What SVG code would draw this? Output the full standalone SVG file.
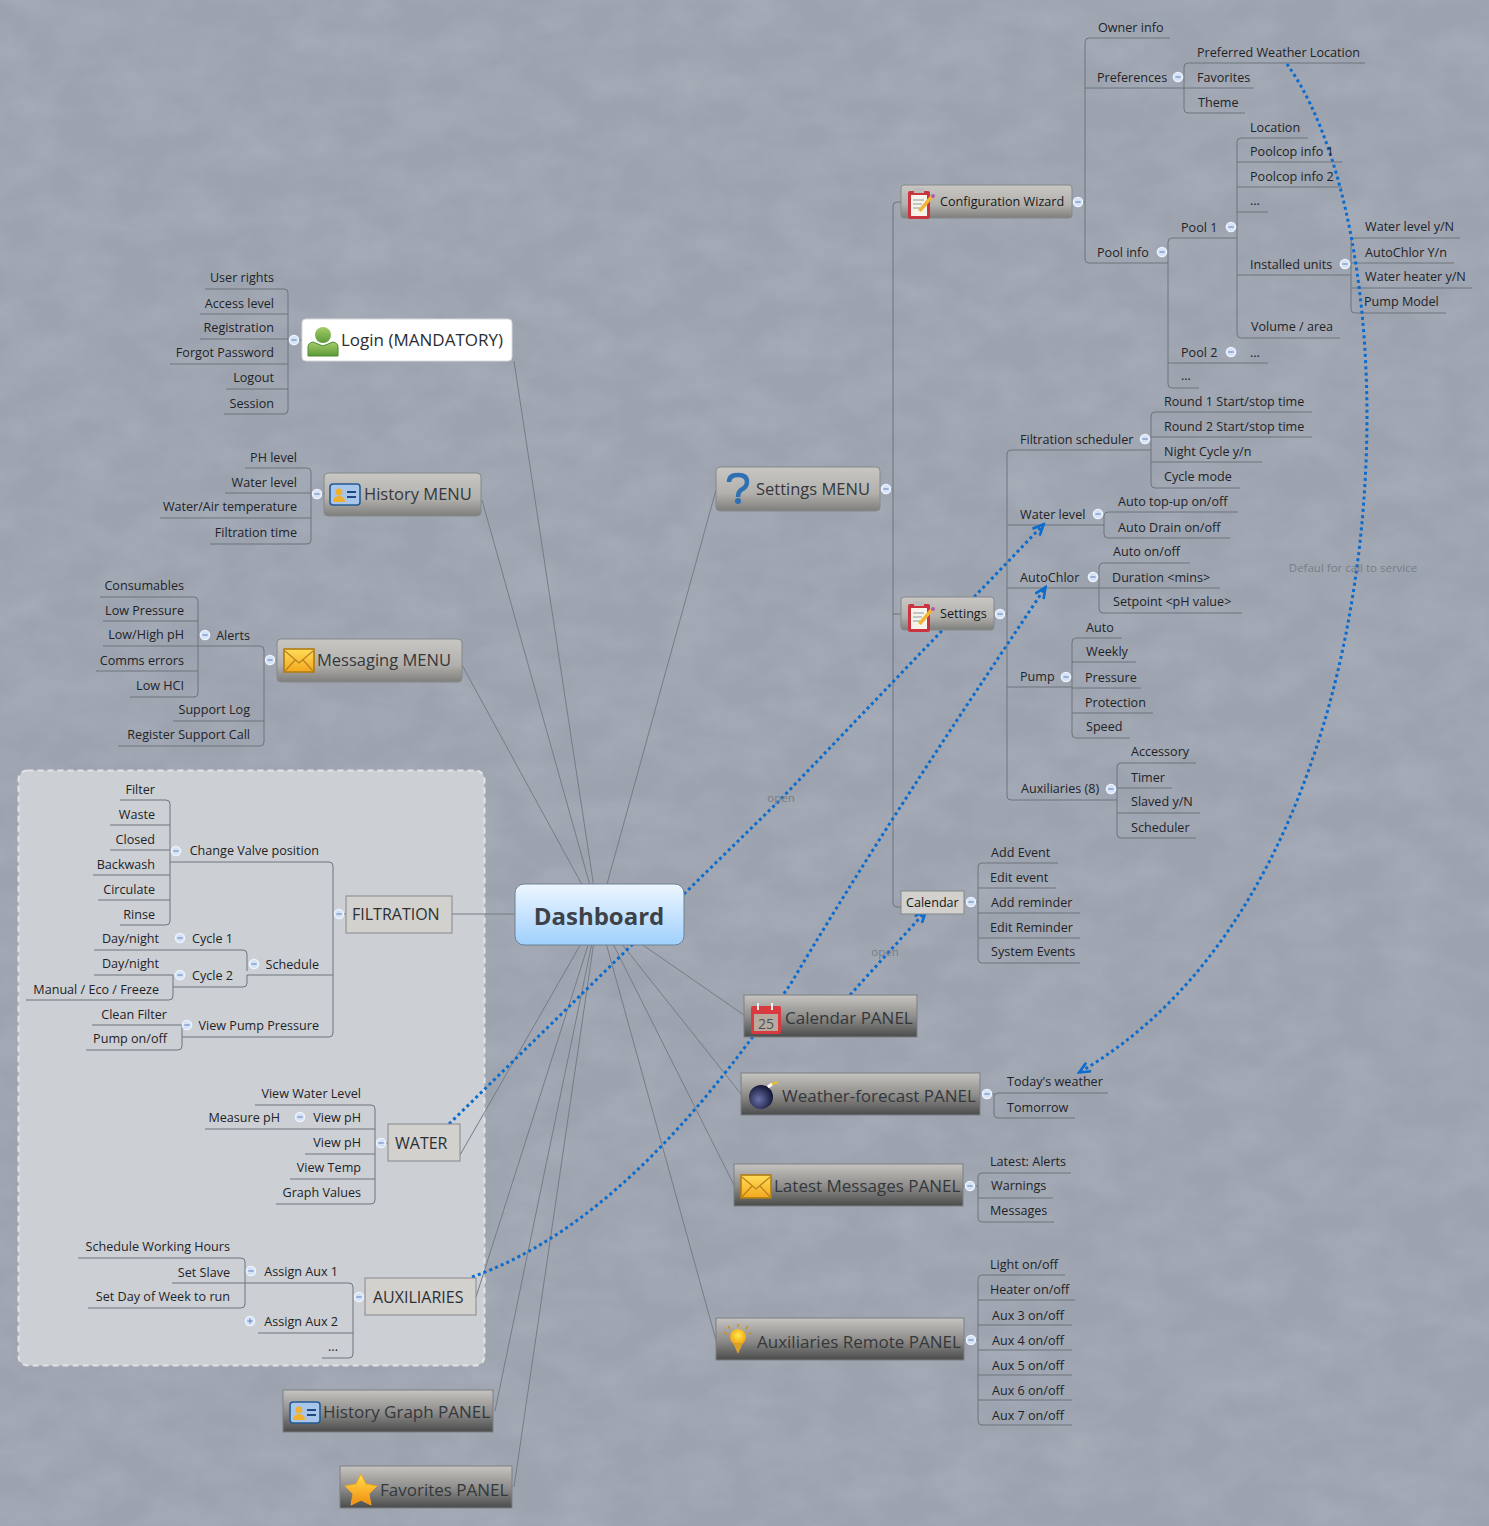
<svg xmlns="http://www.w3.org/2000/svg" xmlns:xlink="http://www.w3.org/1999/xlink" width="1489" height="1526" viewBox="0 0 1489 1526">
<style>
text{font-family:"Open Sans","Noto Sans","Liberation Sans",sans-serif;font-size:12.6px;fill:#1f2327;dominant-baseline:central}
.e{text-anchor:end}
.p{font-size:17px;fill:#34383c}
.m{font-size:16.5px;fill:#34383c}
.s{font-size:12.6px;fill:#15181b}
.b{font-size:16px;fill:#2c3034}
.rel{font-size:11.5px;fill:#777d86;text-anchor:middle}
.br{fill:none;stroke:#6e747c;stroke-width:1}
.ray{fill:none;stroke:#777c84;stroke-width:1}
.dot{fill:none;stroke:#0a6ccf;stroke-width:3;stroke-dasharray:3 3.2}
.dp{fill:#d6e2f6;stroke:#eef4ff;stroke-width:1.4}
.dm{stroke:#6787bd;stroke-width:1.1;fill:none}
.panel{fill:url(#gp);stroke:#7c7f84;stroke-width:1}
.menu{fill:url(#gm);stroke:#85888c;stroke-width:1}
.flat{fill:#d2d1ce;stroke:#85888c;stroke-width:1}
</style>
<defs>
<linearGradient id="gp" x1="0" y1="0" x2="0" y2="1"><stop offset="0" stop-color="#c6c4c0"/><stop offset=".55" stop-color="#8b8a88"/><stop offset="1" stop-color="#4a4b4b"/></linearGradient>
<linearGradient id="gm" x1="0" y1="0" x2="0" y2="1"><stop offset="0" stop-color="#c9c7c3"/><stop offset=".6" stop-color="#b2b0ac"/><stop offset="1" stop-color="#7e7e7c"/></linearGradient>
<linearGradient id="gd" x1="0" y1="0" x2="0" y2="1"><stop offset="0" stop-color="#eef6fe"/><stop offset="1" stop-color="#9fd0fd"/></linearGradient>
<linearGradient id="genv" x1="0" y1="0" x2="0" y2="1"><stop offset="0" stop-color="#ffdc5a"/><stop offset="1" stop-color="#f4a81c"/></linearGradient>
<linearGradient id="gstar" x1="0" y1="0" x2="0" y2="1"><stop offset="0" stop-color="#ffe04a"/><stop offset="1" stop-color="#f28c10"/></linearGradient>
<radialGradient id="gbomb" cx=".4" cy=".6" r=".6"><stop offset="0" stop-color="#6a73a8"/><stop offset="1" stop-color="#15183a"/></radialGradient>
<radialGradient id="gbulb" cx=".5" cy=".4" r=".6"><stop offset="0" stop-color="#ffe94e"/><stop offset="1" stop-color="#f0a010"/></radialGradient>
<linearGradient id="gper" x1="0" y1="0" x2="0" y2="1"><stop offset="0" stop-color="#a4cd6a"/><stop offset="1" stop-color="#5d9a38"/></linearGradient>
<filter id="tex" x="0" y="0" width="100%" height="100%"><feTurbulence type="fractalNoise" baseFrequency=".018 .03" numOctaves="4" seed="7"/><feColorMatrix values="0 0 0 0 1 0 0 0 0 1 0 0 0 0 1 0 0 0 .5 -.16"/></filter>
<marker id="arr" markerUnits="userSpaceOnUse" markerWidth="14" markerHeight="12" refX="11" refY="6" orient="auto"><path d="M1 1L12 6L1 11" fill="none" stroke="#0a6ccf" stroke-width="2.6"/></marker>
<g id="minus"><circle class="dp" r="4.6"/><path class="dm" d="M-2.6 0H2.6"/></g>
<g id="plus"><circle class="dp" r="4.6"/><path class="dm" d="M-2.6 0H2.6M0-2.6V2.6"/></g>
<g id="clip"><rect x="0" y="4" width="22" height="28" rx="2" fill="#c9343f"/><rect x="3" y="8" width="16" height="21" fill="#f6f3ea"/><rect x="6" y="1" width="10" height="5" fill="#bbb"/><path d="M5 13h11M5 17h9M5 21h7" stroke="#8b9aa0" stroke-width="1"/><path d="M10 23L22 9l3 2L13 25z" fill="#f2b632"/><circle cx="25" cy="9" r="2" fill="#b05ab0"/></g>
<g id="card"><rect x="0" y="0" width="30" height="21" rx="3" fill="#a7c6ea" stroke="#255a92" stroke-width="1.6"/><circle cx="9" cy="8" r="3.4" fill="#f0b030"/><path d="M3 18q0-6 6-6t6 6z" fill="#f0b030"/><path d="M17 8h9M17 13h9" stroke="#1d4a80" stroke-width="2"/></g>
<g id="env"><rect x="0" y="0" width="30" height="23" fill="url(#genv)" stroke="#b07c14" stroke-width="1.6"/><path d="M1 2L15 14L29 2M1 22L11 11M29 22L19 11" fill="none" stroke="#b8801c" stroke-width="1.2"/></g>
</defs>

<rect id="background" width="1489" height="1526" fill="#9ca3af"/>
<rect width="1489" height="1526" filter="url(#tex)" opacity=".35"/>

<g id="boundary"><rect x="18.500" y="770.500" width="466" height="595" rx="9" fill="#ccd0d4" stroke="#e2e3e3" stroke-width="2" stroke-dasharray="6 4"/></g>

<g id="connectors">
<!-- central rays -->
<path class="ray" d="M598 914L514 361M598 914L482 500M598 914L462 665M452 914H515M598 914L607 884L716 490M598 914L744 1015M598 914L741 1094M598 914L734 1185M598 914L716 1340M598 914L460 1155M598 914L476 1297M598 914L495 1411M598 914L514 1487"/>
<!-- Configuration + settings spine -->
<path class="br" d="M880 489H893M901 202H897Q893 202 893 206V903Q893 907 897 907H901M893 614H901"/>
<path class="br" d="M1072 202H1085M1170 38H1089Q1085 38 1085 42V259Q1085 263 1089 263H1168M1085 88H1184"/>
<path class="br" d="M1365 63H1188Q1184 63 1184 67V109Q1184 113 1188 113H1245M1184 88H1254"/>
<path class="br" d="M1237 238H1172Q1168 238 1168 242V384Q1168 388 1172 388H1199M1168 363H1237"/>
<path class="br" d="M1308 138H1241Q1237 138 1237 142V334Q1237 338 1241 338H1340M1237 162H1342M1237 187H1342M1237 212H1268M1237 275H1351M1237 363H1268"/>
<path class="br" d="M1460 238H1355Q1351 238 1351 242V309Q1351 313 1355 313H1446M1351 263H1454M1351 288H1472"/>
<!-- settings -->
<path class="br" d="M994 614H1007M1151 450H1011Q1007 450 1007 454V796Q1007 800 1011 800H1117M1007 525H1104M1007 588H1099M1007 687H1072"/>
<path class="br" d="M1312 412H1155Q1151 412 1151 416V484Q1151 488 1155 488H1240M1151 437H1312M1151 462H1262"/>
<path class="br" d="M1238 512H1108Q1104 512 1104 516V534Q1104 538 1108 538H1230"/>
<path class="br" d="M1190 563H1103Q1099 563 1099 567V609Q1099 613 1103 613H1242M1099 588H1220"/>
<path class="br" d="M1122 638H1076Q1072 638 1072 642V734Q1072 738 1076 738H1130M1072 662H1136M1072 688H1141M1072 713H1153"/>
<path class="br" d="M1196 763H1121Q1117 763 1117 767V834Q1117 838 1121 838H1196M1117 788H1172M1117 813H1200"/>
<!-- calendar -->
<path class="br" d="M964 902H978M1058 863H982Q978 863 978 867V959Q978 963 982 963H1080M978 888H1056M978 913H1080M978 938H1080"/>
<!-- panels -->
<path class="br" d="M980 1094H994M1108 1093H998Q994 1093 994 1097V1114Q994 1118 998 1118H1075"/>
<path class="br" d="M963 1186H978M1071 1173H982Q978 1173 978 1177V1218Q978 1222 982 1222H1054M978 1198H1053"/>
<path class="br" d="M964 1340H978M1065 1275H982Q978 1275 978 1279V1421Q978 1425 982 1425H1072M978 1300H1075M978 1325H1072M978 1350H1072M978 1375H1072M978 1400H1072"/>
<!-- login / history / messaging -->
<path class="br" d="M302 340H288M205 289H284Q288 289 288 293V410Q288 414 284 414H224M200 314H288M200 339H288M170 364H288M226 389H288"/>
<path class="br" d="M324 494H311M245 468H307Q311 468 311 472V540Q311 544 307 544H210M225 493H311M160 518H311"/>
<path class="br" d="M277 660H264M198 646H260Q264 646 264 650V742Q264 746 260 746H118M173 721H264"/>
<path class="br" d="M100 597H194Q198 597 198 601V693Q198 697 194 697H130M103 621H198M103 646H198M96 671H198"/>
<!-- filtration -->
<path class="br" d="M346 914H333M170 862H329Q333 862 333 866V1033Q333 1037 329 1037H182M247 975H333"/>
<path class="br" d="M120 800H166Q170 800 170 804V921Q170 925 166 925H120M110 825H170M110 850H170M93 875H170M98 900H170"/>
<path class="br" d="M94 950H243Q247 950 247 954V971M173 987H243Q247 987 247 983V975"/>
<path class="br" d="M94 975H173M26 1000H169Q173 1000 173 996V975"/>
<path class="br" d="M92 1025H182V1046Q182 1050 178 1050H86"/>
<!-- water -->
<path class="br" d="M388 1143H375M255 1105H371Q375 1105 375 1109V1200Q375 1204 371 1204H276M205 1129H375M305 1154H375M290 1179H375"/>
<!-- auxiliaries -->
<path class="br" d="M365 1297H353M245 1283H349Q353 1283 353 1287V1354Q353 1358 349 1358H322M258 1333H353"/>
<path class="br" d="M78 1258H241Q245 1258 245 1262V1304Q245 1308 241 1308H88M172 1283H245"/>
<!-- relationships -->
<path class="dot" marker-end="url(#arr)" d="M449 1124L780 800L1043 525"/>
<path class="dot" marker-end="url(#arr)" d="M472 1277C620 1225 730 1070 790 985C870 850 950 730 1045 588"/>
<path class="dot" marker-end="url(#arr)" d="M850 995L925 912"/>
<path class="dot" marker-end="url(#arr)" d="M1287 64C1420 250 1410 880 1080 1072"/>
<text class="rel" x="781" y="797">open</text>
<text class="rel" x="885" y="951">open</text>
<text class="rel" x="1353" y="567">Defaul for call to service</text>
</g>

<g id="dashboard"><rect x="515" y="884" width="169" height="61" rx="9" fill="url(#gd)" stroke="#6f8194"/><text x="599" y="915" text-anchor="middle" style="font-size:24px;font-weight:700;fill:#3c4248">Dashboard</text></g>

<g id="login"><rect x="302" y="319" width="210" height="42" rx="4" fill="#fff" stroke="#d8d8d8"/><circle cx="323" cy="335" r="8" fill="url(#gper)"/><path d="M308 356V347Q308 343 313 342L323 346L333 342Q338 343 338 347V356z" fill="url(#gper)" stroke="#4c8a2c"/><text class="b" x="341" y="339" style="font-size:17px;fill:#2a2e32">Login (MANDATORY)</text><use href="#minus" x="294" y="340"/></g>
<g id="history-menu"><rect class="menu" x="324" y="473" width="157" height="43" rx="4"/><use href="#card" x="330" y="484"/><text class="m" x="364" y="493">History MENU</text><use href="#minus" x="317" y="494"/></g>
<g id="messaging-menu"><rect class="menu" x="277" y="639" width="185" height="43" rx="4"/><use href="#env" x="284" y="649"/><text class="m" x="317" y="659">Messaging MENU</text><use href="#minus" x="270" y="660"/></g>
<g id="settings-menu"><rect class="menu" x="716" y="467" width="164" height="44" rx="4"/><path d="M729 482Q729 475 738 475Q747 475 747 482Q747 487 741 490Q738 492 738 497" fill="none" stroke="#2f6fb4" stroke-width="4.5"/><circle cx="738" cy="501" r="3" fill="#2f6fb4"/><text class="m" x="756" y="488">Settings MENU</text><use href="#minus" x="886" y="489"/></g>
<g id="configuration-wizard"><rect class="menu" x="901" y="185" width="171" height="33" rx="3"/><use href="#clip" x="908" y="187"/><text class="s" x="940" y="201">Configuration Wizard</text><use href="#minus" x="1078" y="202"/></g>
<g id="settings"><rect class="menu" x="901" y="597" width="93" height="33" rx="3"/><use href="#clip" x="908" y="600"/><text class="s" x="940" y="613">Settings</text><use href="#minus" x="1000" y="614"/></g>
<g id="calendar"><rect class="flat" x="901" y="891" width="63" height="23"/><text class="s" x="906" y="902">Calendar</text><use href="#minus" x="971" y="902"/></g>

<g id="calendar-panel"><rect class="panel" x="744" y="995" width="173" height="42"/><rect x="751" y="1006" width="30" height="28" rx="2" fill="#d83a3f"/><rect x="754" y="1014" width="24" height="17" fill="#b9aaa0"/><path d="M758 1003v7M772 1003v7" stroke="#eee" stroke-width="2"/><text x="766" y="1023" text-anchor="middle" style="font-size:14px;fill:#4a5056">25</text><text class="p" x="785" y="1017">Calendar PANEL</text></g>
<g id="weather-panel"><rect class="panel" x="741" y="1073" width="239" height="42"/><circle cx="761" cy="1097" r="12" fill="url(#gbomb)"/><path d="M768 1087l4-3" stroke="#fff" stroke-width="3"/><path d="M772 1084l6-2" stroke="#f0c020" stroke-width="2"/><text class="p" x="782" y="1095">Weather-forecast PANEL</text><use href="#minus" x="987" y="1094"/></g>
<g id="latest-panel"><rect class="panel" x="734" y="1164" width="229" height="42"/><use href="#env" x="741" y="1175"/><text class="p" x="774" y="1185">Latest Messages PANEL</text><use href="#minus" x="970" y="1186"/></g>
<g id="aux-remote-panel"><rect class="panel" x="716" y="1318" width="248" height="42"/><circle cx="738" cy="1337" r="8" fill="url(#gbulb)"/><path d="M733 1343L738 1354L743 1343z" fill="#d8a028"/><path d="M730 1329l-2-3M738 1327v-3M746 1329l2-3M727 1334l-3-1M749 1334l3-1" stroke="#c89020" stroke-width="1.5"/><text class="p" x="757" y="1341">Auxiliaries Remote PANEL</text><use href="#minus" x="971" y="1340"/></g>
<g id="history-graph-panel"><rect class="panel" x="283" y="1390" width="210" height="42" stroke="none"/><use href="#card" x="290" y="1402"/><text class="p" x="323" y="1411">History Graph PANEL</text></g>
<g id="favorites-panel"><rect class="panel" x="340" y="1466" width="172" height="42" stroke="none"/><path d="M361 1474L366 1484L377 1486L369 1494L371 1505L361 1500L351 1505L353 1494L345 1486L356 1484z" fill="url(#gstar)" stroke="#f0a820" stroke-linejoin="round"/><text class="p" x="380" y="1489">Favorites PANEL</text></g>

<g id="filtration"><rect class="flat" x="346" y="896" width="106" height="37"/><text class="b" x="352" y="914">FILTRATION</text><use href="#minus" x="339" y="914"/></g>
<g id="water"><rect class="flat" x="388" y="1124" width="72" height="37"/><text class="b" x="395" y="1143">WATER</text><use href="#minus" x="381" y="1143"/></g>
<g id="auxiliaries"><rect class="flat" x="365" y="1278" width="111" height="37"/><text class="b" x="373" y="1297">AUXILIARIES</text><use href="#minus" x="359" y="1297"/></g>

<g id="owner-info"><text x="1098" y="27">Owner info</text></g>
<g id="preferences"><text x="1097" y="77">Preferences</text><use href="#minus" x="1178" y="77"/></g>
<g id="preferred-weather"><text x="1197" y="52">Preferred Weather Location</text></g>
<g id="favorites"><text x="1197" y="77">Favorites</text></g>
<g id="theme"><text x="1198" y="102">Theme</text></g>
<g id="pool-info"><text x="1097" y="252">Pool info</text><use href="#minus" x="1162" y="252"/></g>
<g id="pool-1"><text x="1181" y="227">Pool 1</text><use href="#minus" x="1231" y="227"/></g>
<g id="location"><text x="1250" y="127">Location</text></g>
<g id="poolcop-1"><text x="1250" y="151">Poolcop info 1</text></g>
<g id="poolcop-2"><text x="1250" y="176">Poolcop info 2</text></g>
<g id="pool-1-more"><text x="1250" y="200">...</text></g>
<g id="installed-units"><text x="1250" y="264">Installed units</text><use href="#minus" x="1345" y="264"/></g>
<g id="unit-water-level"><text x="1365" y="226">Water level y/N</text></g>
<g id="unit-autochlor"><text x="1365" y="252">AutoChlor Y/n</text></g>
<g id="unit-heater"><text x="1365" y="276">Water heater y/N</text></g>
<g id="unit-pump"><text x="1364" y="301">Pump Model</text></g>
<g id="volume"><text x="1251" y="326">Volume / area</text></g>
<g id="pool-2"><text x="1181" y="352">Pool 2</text><use href="#minus" x="1231" y="352"/></g>
<g id="pool-2-more"><text x="1250" y="352">...</text></g>
<g id="pool-more"><text x="1181" y="375">...</text></g>

<g id="filtration-scheduler"><text x="1020" y="439">Filtration scheduler</text><use href="#minus" x="1145" y="439"/></g>
<g id="round-1"><text x="1164" y="401">Round 1 Start/stop time</text></g>
<g id="round-2"><text x="1164" y="426">Round 2 Start/stop time</text></g>
<g id="night-cycle"><text x="1164" y="451">Night Cycle y/n</text></g>
<g id="cycle-mode"><text x="1164" y="476">Cycle mode</text></g>
<g id="water-level"><text x="1020" y="514">Water level</text><use href="#minus" x="1098" y="514"/></g>
<g id="auto-topup"><text x="1118" y="501">Auto top-up on/off</text></g>
<g id="auto-drain"><text x="1118" y="527">Auto Drain on/off</text></g>
<g id="autochlor"><text x="1020" y="577">AutoChlor</text><use href="#minus" x="1093" y="577"/></g>
<g id="auto-onoff"><text x="1113" y="551">Auto on/off</text></g>
<g id="duration"><text x="1112" y="577">Duration &lt;mins&gt;</text></g>
<g id="setpoint"><text x="1113" y="601">Setpoint &lt;pH value&gt;</text></g>
<g id="pump"><text x="1020" y="676">Pump</text><use href="#minus" x="1066" y="677"/></g>
<g id="pump-auto"><text x="1086" y="627">Auto</text></g>
<g id="pump-weekly"><text x="1086" y="651">Weekly</text></g>
<g id="pump-pressure"><text x="1085" y="677">Pressure</text></g>
<g id="pump-protection"><text x="1085" y="702">Protection</text></g>
<g id="pump-speed"><text x="1086" y="726">Speed</text></g>
<g id="auxiliaries-8"><text x="1021" y="788">Auxiliaries (8)</text><use href="#minus" x="1111" y="789"/></g>
<g id="aux-accessory"><text x="1131" y="751">Accessory</text></g>
<g id="aux-timer"><text x="1131" y="777">Timer</text></g>
<g id="aux-slaved"><text x="1131" y="801">Slaved y/N</text></g>
<g id="aux-scheduler"><text x="1131" y="827">Scheduler</text></g>

<g id="add-event"><text x="991" y="852">Add Event</text></g>
<g id="edit-event"><text x="990" y="877">Edit event</text></g>
<g id="add-reminder"><text x="991" y="902">Add reminder</text></g>
<g id="edit-reminder"><text x="990" y="927">Edit Reminder</text></g>
<g id="system-events"><text x="991" y="951">System Events</text></g>

<g id="todays-weather"><text x="1007" y="1081">Today's weather</text></g>
<g id="tomorrow"><text x="1007" y="1107">Tomorrow</text></g>
<g id="latest-alerts"><text x="990" y="1161">Latest: Alerts</text></g>
<g id="warnings"><text x="991" y="1185">Warnings</text></g>
<g id="messages"><text x="990" y="1210">Messages</text></g>
<g id="light"><text x="990" y="1264">Light on/off</text></g>
<g id="heater"><text x="990" y="1289">Heater on/off</text></g>
<g id="aux-3"><text x="992" y="1315">Aux 3 on/off</text></g>
<g id="aux-4"><text x="992" y="1340">Aux 4 on/off</text></g>
<g id="aux-5"><text x="992" y="1365">Aux 5 on/off</text></g>
<g id="aux-6"><text x="992" y="1390">Aux 6 on/off</text></g>
<g id="aux-7"><text x="992" y="1415">Aux 7 on/off</text></g>

<g id="user-rights"><text class="e" x="274" y="277">User rights</text></g>
<g id="access-level"><text class="e" x="274" y="303">Access level</text></g>
<g id="registration"><text class="e" x="274" y="327">Registration</text></g>
<g id="forgot-password"><text class="e" x="274" y="352">Forgot Password</text></g>
<g id="logout"><text class="e" x="274" y="377">Logout</text></g>
<g id="session"><text class="e" x="274" y="403">Session</text></g>

<g id="ph-level"><text class="e" x="297" y="457">PH level</text></g>
<g id="hist-water-level"><text class="e" x="297" y="482">Water level</text></g>
<g id="water-air"><text class="e" x="297" y="506">Water/Air temperature</text></g>
<g id="filtration-time"><text class="e" x="297" y="532">Filtration time</text></g>

<g id="alerts"><text class="e" x="250" y="635">Alerts</text><use href="#minus" x="205" y="635"/></g>
<g id="consumables"><text class="e" x="184" y="585">Consumables</text></g>
<g id="low-pressure"><text class="e" x="184" y="610">Low Pressure</text></g>
<g id="low-high-ph"><text class="e" x="184" y="634">Low/High pH</text></g>
<g id="comms-errors"><text class="e" x="184" y="660">Comms errors</text></g>
<g id="low-hci"><text class="e" x="184" y="685">Low HCI</text></g>
<g id="support-log"><text class="e" x="250" y="709">Support Log</text></g>
<g id="register-call"><text class="e" x="250" y="734">Register Support Call</text></g>

<g id="change-valve"><text class="e" x="319" y="850">Change Valve position</text><use href="#minus" x="176" y="851"/></g>
<g id="filter"><text class="e" x="155" y="789">Filter</text></g>
<g id="waste"><text class="e" x="155" y="814">Waste</text></g>
<g id="closed"><text class="e" x="155" y="839">Closed</text></g>
<g id="backwash"><text class="e" x="155" y="864">Backwash</text></g>
<g id="circulate"><text class="e" x="155" y="889">Circulate</text></g>
<g id="rinse"><text class="e" x="155" y="914">Rinse</text></g>
<g id="schedule"><text class="e" x="319" y="964">Schedule</text><use href="#minus" x="254" y="964"/></g>
<g id="cycle-1"><text class="e" x="233" y="938">Cycle 1</text><use href="#minus" x="180" y="938"/></g>
<g id="cycle-2"><text class="e" x="233" y="975">Cycle 2</text><use href="#minus" x="180" y="975"/></g>
<g id="day-night-1"><text class="e" x="159" y="938">Day/night</text></g>
<g id="day-night-2"><text class="e" x="159" y="963">Day/night</text></g>
<g id="manual-eco"><text class="e" x="159" y="989">Manual / Eco / Freeze</text></g>
<g id="view-pump"><text class="e" x="319" y="1025">View Pump Pressure</text><use href="#minus" x="187" y="1025"/></g>
<g id="clean-filter"><text class="e" x="167" y="1014">Clean Filter</text></g>
<g id="pump-onoff"><text class="e" x="167" y="1038">Pump on/off</text></g>

<g id="view-water-level"><text class="e" x="361" y="1093">View Water Level</text></g>
<g id="view-ph-1"><text class="e" x="361" y="1117">View pH</text><use href="#minus" x="300" y="1117"/></g>
<g id="measure-ph"><text class="e" x="280" y="1117">Measure pH</text></g>
<g id="view-ph-2"><text class="e" x="361" y="1142">View pH</text></g>
<g id="view-temp"><text class="e" x="361" y="1167">View Temp</text></g>
<g id="graph-values"><text class="e" x="361" y="1192">Graph Values</text></g>

<g id="assign-aux-1"><text class="e" x="338" y="1271">Assign Aux 1</text><use href="#minus" x="251" y="1271"/></g>
<g id="schedule-hours"><text class="e" x="230" y="1246">Schedule Working Hours</text></g>
<g id="set-slave"><text class="e" x="230" y="1272">Set Slave</text></g>
<g id="set-day"><text class="e" x="230" y="1296">Set Day of Week to run</text></g>
<g id="assign-aux-2"><text class="e" x="338" y="1321">Assign Aux 2</text><use href="#plus" x="250" y="1321"/></g>
<g id="aux-more"><text class="e" x="338" y="1346">...</text></g>
</svg>
